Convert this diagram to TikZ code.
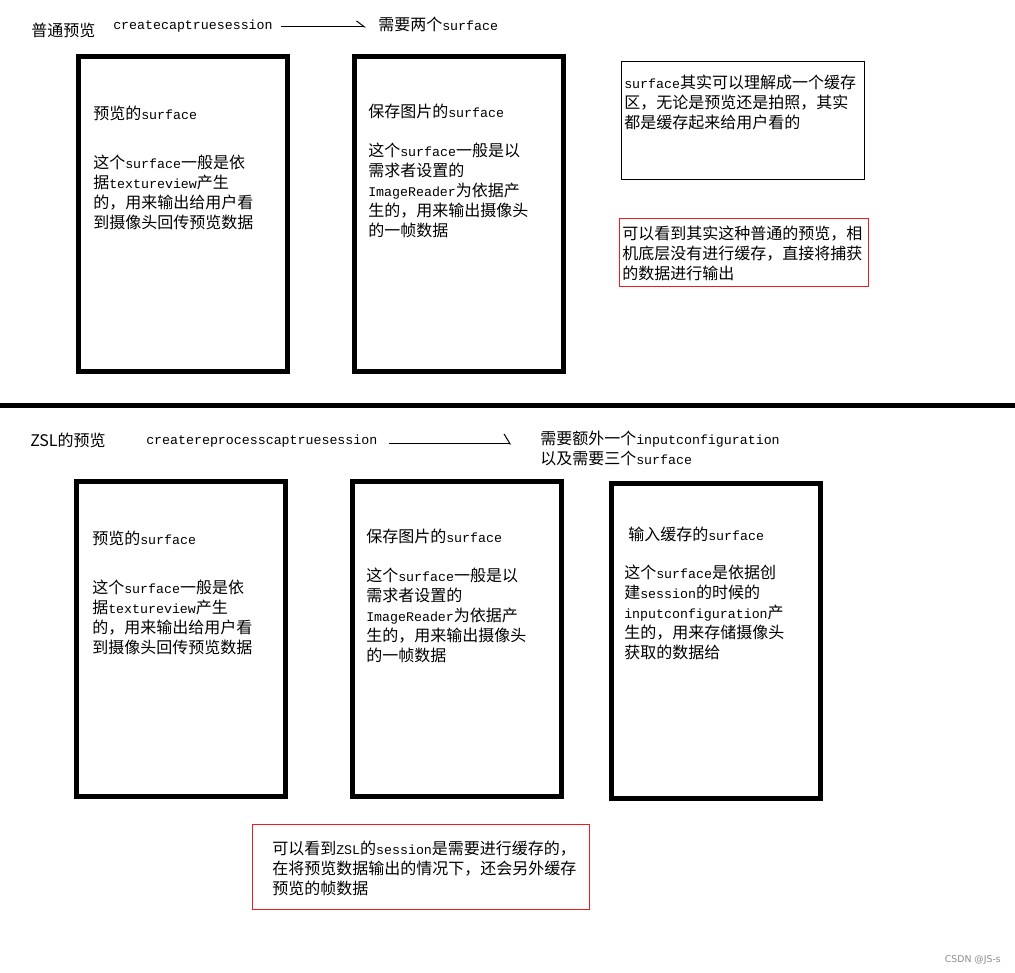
\documentclass[tikz,border=0pt]{standalone}
\usepackage{fontspec}
\setmainfont{Noto Sans CJK SC}
\setmonofont[Scale=0.83]{Liberation Mono}
\newfontfamily\wmfont{DejaVu Sans}
\usetikzlibrary{arrows.meta}
\newcommand\LL[1]{{\ttfamily #1}}
\definecolor{paintred}{HTML}{ED1C24}
\begin{document}
\begin{tikzpicture}[x=0.75pt,y=-0.75pt,
  txt/.style={inner sep=0pt, align=left, anchor=north west, font=\fontsize{12}{15}\selectfont},
  lbl/.style={inner sep=0pt, anchor=west, font=\fontsize{12}{15}\selectfont},
  bigbox/.style={draw, line width=3.75pt, minimum width=156.75pt, minimum height=236.25pt, inner sep=0pt},
  note/.style={draw, line width=0.75pt, inner sep=0pt},
  rednote/.style={note, draw=paintred},
  link/.style={line width=0.75pt}]
\useasboundingbox (0,0) rectangle (1015,973);
\fill[white] (0,0) rectangle (1015,973);

% ---------- upper part ----------
\node[lbl] (h1) at (31,30) {普通预览};
\node[lbl] (c1) at (113,26) {\LL{createcaptruesession}};
\node[lbl] (r1) at (378,24) {需要两个\LL{surface}};
\draw[link, shorten <=6pt, shorten >=9pt, -{Straight Barb[left,length=6pt,width=9pt]}]
  ([yshift=-0.75pt]c1.east) -- ([yshift=-0.75pt]c1.east -| r1.west);

\node[bigbox] (b1) at (183,214) {};
\node[txt] (b1t) at (93,106) {预览的\LL{surface}};
\node[txt] (b1p) at (93,155) {这个\LL{surface}一般是依\\据\LL{textureview}产生\\的，用来输出给用户看\\到摄像头回传预览数据};

\node[bigbox] (b2) at (459,214) {};
\node[txt] (b2t) at (368,104) {保存图片的\LL{surface}};
\node[txt] (b2p) at (368,143) {这个\LL{surface}一般是以\\需求者设置的\\\LL{ImageReader}为依据产\\生的，用来输出摄像头\\的一帧数据};

\node[note, minimum width=182.25pt, minimum height=88.5pt] (n1box) at (742.5,121) {};
\node[txt] (n1) at (624,75) {\LL{surface}其实可以理解成一个缓存\\区，无论是预览还是拍照，其实\\都是缓存起来给用户看的};

\node[rednote, minimum width=186.75pt, minimum height=51pt] (n2box) at (743.5,253) {};
\node[txt] (n2) at (622,226) {可以看到其实这种普通的预览，相\\机底层没有进行缓存，直接将捕获\\的数据进行输出};

% ---------- separator ----------
\coordinate (sepL) at (0,406);
\coordinate (sepR) at (1015,406);
\draw[line width=3.75pt, line cap=round] (sepL) -- (sepR);

% ---------- lower part ----------
\node[lbl] (h2) at (30,440) {ZSL的预览};
\node[lbl] (c2) at (146,441) {\LL{createreprocesscaptruesession}};
\node[txt] (r2) at (540,431) {需要额外一个\LL{inputconfiguration}\\以及需要三个\LL{surface}};
\draw[link, shorten <=8.25pt, shorten >=21.75pt, -{Straight Barb[left,length=4.5pt,width=15pt]}]
  ([yshift=-2.25pt]c2.east) -- ([yshift=-2.25pt]c2.east -| r2.west);

\node[bigbox] (b4) at (181,639) {};
\node[txt] (b4t) at (92,531) {预览的\LL{surface}};
\node[txt] (b4p) at (92,580) {这个\LL{surface}一般是依\\据\LL{textureview}产生\\的，用来输出给用户看\\到摄像头回传预览数据};

\node[bigbox] (b5) at (457,639) {};
\node[txt] (b5t) at (366,529) {保存图片的\LL{surface}};
\node[txt] (b5p) at (366,568) {这个\LL{surface}一般是以\\需求者设置的\\\LL{ImageReader}为依据产\\生的，用来输出摄像头\\的一帧数据};

\node[bigbox] (b6) at (716,641) {};
\node[txt] (b6t) at (628,527) {输入缓存的\LL{surface}};
\node[txt] (b6p) at (624,565) {这个\LL{surface}是依据创\\建\LL{session}的时候的\\\LL{inputconfiguration}产\\生的，用来存储摄像头\\获取的数据给};

\node[rednote, minimum width=252.75pt, minimum height=63.75pt] (n3box) at (420.5,866.5) {};
\node[txt] (n3) at (272,841) {可以看到\LL{ZSL}的\LL{session}是需要进行缓存的，\\在将预览数据输出的情况下，还会另外缓存\\预览的帧数据};

\node[inner sep=0pt, anchor=east, text=black!45, font=\wmfont\fontsize{7}{8}\selectfont] (wm) at (1001,960) {CSDN @JS-s};
\end{tikzpicture}
\end{document}
